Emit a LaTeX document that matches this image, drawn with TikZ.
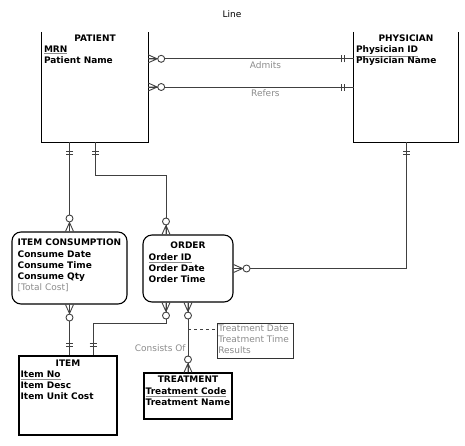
\documentclass[tikz,border=0pt]{standalone}
\usepackage{fontspec}
\setmainfont{DejaVu Sans}
\usetikzlibrary{positioning}

\newcommand{\keyattr}[1]{\leavevmode\rlap{\color{black!45}\underline{\phantom{#1}}}#1}

\tikzset{
  many opt/.pic={
    \draw (9,0) -- (0,4) (9,0) -- (0,0) (9,0) -- (0,-4);
    \draw[fill=white] (13,0) circle (3.5);
  },
  one mand/.pic={
    \draw (9,-3.5) -- (9,3.5) (12,-3.5) -- (12,3.5);
  }
}

\begin{document}
\begin{tikzpicture}[x=1pt, y=-1pt, font=\fontsize{9}{11}\selectfont,
    box/.style={draw=black, line width=1.1pt, inner sep=0pt},
    head/.style={font=\fontsize{9}{11}\selectfont\bfseries, inner sep=0pt, anchor=base},
    attrs/.style={font=\fontsize{9}{11}\selectfont\bfseries, inner sep=0pt, align=left, anchor=north west},
    link/.style={color=black!75, line width=0.9pt},
    lbl/.style={text=black!45, inner sep=0pt}]
    \useasboundingbox (0,0) rectangle (465,445);

    \node (title) at (232,14) {Line};

    % entities
    \node[inner sep=0pt, minimum width=106, minimum height=110] (patient) at (95,87) {};
    \node[inner sep=0pt, minimum width=104, minimum height=110] (physician) at (406,87) {};
    \draw[line width=1.1pt] (patient.north west) -- (patient.south west) -- (patient.south east) -- (patient.north east);
    \draw[line width=1.1pt] (physician.north west) -- (physician.south west) -- (physician.south east) -- (physician.north east);
    \node[box, rounded corners=9, minimum width=115, minimum height=72] (ic) at (69.5,268) {};
    \node[box, rounded corners=9, minimum width=90, minimum height=67] (order) at (188,268.5) {};
    \node[box, minimum width=98, minimum height=79] (item) at (68,395.5) {};
    \node[box, minimum width=88, minimum height=46] (treatment) at (188,396) {};
    \node[draw=black!80, line width=0.9pt, inner sep=0pt, minimum width=76, minimum height=35] (attr) at (255,340.5) {};

    \node[head] at ([yshift=-9.3]patient.north) {PATIENT};
    \node[attrs] at ([xshift=2,yshift=-13.7]patient.north west) {\keyattr{MRN}\\Patient Name};
    \node[head] at ([yshift=-9.3]physician.north) {PHYSICIAN};
    \node[attrs] at ([xshift=2,yshift=-13.7]physician.north west) {\keyattr{Physician ID}\\Physician Name};
    \node[head] at ([yshift=-14.3]ic.north) {ITEM CONSUMPTION};
    \node[attrs] at ([xshift=6,yshift=-18.7]ic.north west) {Consume Date\\Consume Time\\Consume Qty\\{\mdseries\color{black!45}[Total Cost]}};
    \node[head] at ([yshift=-14.3]order.north) {ORDER};
    \node[attrs] at ([xshift=6,yshift=-18.7]order.north west) {\keyattr{Order ID}\\Order Date\\Order Time};
    \node[head] at ([yshift=-11.3]item.north) {ITEM};
    \node[attrs] at ([xshift=2,yshift=-15.7]item.north west) {\keyattr{Item No}\\Item Desc\\Item Unit Cost};
    \node[head] at ([yshift=-10.3]treatment.north) {TREATMENT};
    \node[attrs] at ([xshift=2,yshift=-14.7]treatment.north west) {\keyattr{Treatment Code}\\Treatment Name};
    \node[attrs, font=\fontsize{9}{11}\selectfont, text=black!45] at ([xshift=1.5,yshift=-2]attr.north west) {Treatment Date\\Treatment Time\\Results};

    % relationships
    \coordinate (adm) at ([yshift=-27]patient.north east);
    \coordinate (ordtop) at ([xshift=-22]order.north);
    \coordinate (ordbot) at ([xshift=-22]order.south);
    \coordinate (dash) at ([yshift=-7]attr.north west);

    \draw[link] (adm) -- (adm -| physician.west) node[lbl, pos=.57, yshift=-6] {Admits};
    \draw[link] (patient.east) -- (physician.west) node[lbl, pos=.57, yshift=-6] {Refers};
    \draw[link] (patient.south -| ic.north) -- (ic.north);
    \draw[link] (patient.south) -- ++(0,33) -| (ordtop);
    \draw[link] (physician.south) |- (order.east);
    \draw[link] (ic.south) -- (ic.south |- item.north);
    \draw[link] (ordbot) -- ++(0,21) -| ([xshift=25]item.north);
    \draw[link] (order.south) -- (treatment.north) node[lbl, pos=.65, left=2] {Consists Of};
    \draw[link, dashed] (order.south |- dash) -- (dash);

    \pic[link] at (adm) {many opt};
    \pic[link, rotate=180] at (adm -| physician.west) {one mand};
    \pic[link] at (patient.east) {many opt};
    \pic[link, rotate=180] at (physician.west) {one mand};
    \pic[link, rotate=-90] at (patient.south -| ic.north) {one mand};
    \pic[link, rotate=90] at (ic.north) {many opt};
    \pic[link, rotate=-90] at (patient.south) {one mand};
    \pic[link, rotate=90] at (ordtop) {many opt};
    \pic[link, rotate=-90] at (physician.south) {one mand};
    \pic[link] at (order.east) {many opt};
    \pic[link, rotate=-90] at (ic.south) {many opt};
    \pic[link, rotate=90] at (ic.south |- item.north) {one mand};
    \pic[link, rotate=-90] at (ordbot) {many opt};
    \pic[link, rotate=90] at ([xshift=25]item.north) {one mand};
    \pic[link, rotate=-90] at (order.south) {many opt};
    \pic[link, rotate=90] at (treatment.north) {many opt};
\end{tikzpicture}
\end{document}
